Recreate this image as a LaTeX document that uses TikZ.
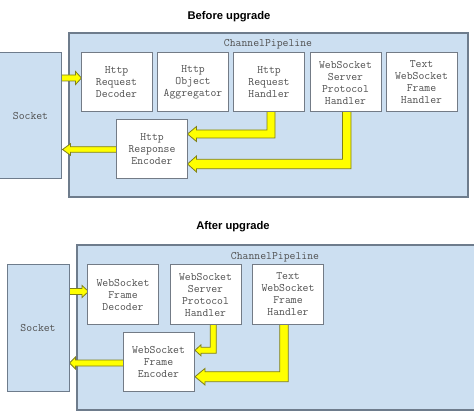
\documentclass[tikz,border=0pt]{standalone}
\usepackage{fontspec}
\setsansfont{Liberation Sans}
\definecolor{pipefill}{HTML}{CCDFF1}
\definecolor{pipeline}{HTML}{6E7C8C}
\definecolor{boxline}{HTML}{737B86}
\definecolor{txtgray}{HTML}{505050}
\definecolor{arrowfill}{HTML}{FFFF00}
\definecolor{arrowline}{HTML}{7F7F1A}
\tikzset{
  monotext/.style={font=\ttfamily\fontsize{11.4}{12}\selectfont, text=txtgray},
  pipebox/.style={draw=pipeline, fill=pipefill, line width=1.2pt},
  sockbox/.style={monotext, draw=pipeline, fill=pipefill, line width=1pt, minimum width=62pt, minimum height=126pt, inner sep=0pt},
  hbox/.style={monotext, draw=boxline, fill=white, line width=1pt, minimum width=71pt, minimum height=59pt, inner sep=0pt, align=center},
  ptitle/.style={monotext},
  title/.style={font=\sffamily\bfseries\fontsize{11.2}{13}\selectfont, text=black},
  blockarrow/.style={fill=arrowfill, draw=arrowline, line width=0.8pt, line join=miter}
}
% straight left/right block arrow: tip x, y centre, head base x, shaft end x, shaft half, head half
\newcommand{\harrow}[6]{%
  \draw[blockarrow] (#1,#2) -- (#3,#2-#6) -- (#3,#2-#5) -- (#4,#2-#5) -- (#4,#2+#5) -- (#3,#2+#5) -- (#3,#2+#6) -- cycle;}
% bent arrow: shaft x, shaft half width, top y, y centre, horizontal half, head half, head base x, tip x
\newcommand{\barrow}[8]{%
  \draw[blockarrow] (#1-#2,#3) -- (#1+#2,#3) -- (#1+#2,#4+#5) -- (#7,#4+#5) -- (#7,#4+#6) -- (#8,#4) -- (#7,#4-#6) -- (#7,#4-#5) -- (#1-#2,#4-#5) -- cycle;}
\begin{document}
\begin{tikzpicture}[x=1pt,y=-1pt]
\useasboundingbox (0,0) rectangle (474,414);
% ---------- Before upgrade ----------
\node[title] (t1) at (229,17) {Before upgrade};
\draw[pipebox] (69,33) rectangle (468,197);
\node[ptitle] (p1) at (268,44) {ChannelPipeline};
\harrow{81.5}{78}{75.5}{60}{3}{6.5}
\harrow{62.5}{149.5}{70.5}{120}{2.8}{5.8}
\barrow{271}{4}{108}{134}{4}{7.5}{196.5}{187.5}
\barrow{346.7}{4.3}{108}{164}{4.7}{8}{196.5}{187.5}
\node[sockbox] (s1) at (30.5,116) {Socket};
\node[hbox] (a1) at (116.5,82.5) {Http\\Request\\Decoder};
\node[hbox] (a2) at (193,82.5) {Http\\Object\\Aggregator};
\node[hbox] (a3) at (269,82.5) {Http\\Request\\Handler};
\node[hbox] (a4) at (345.5,82.5) {WebSocket\\Server\\Protocol\\Handler};
\node[hbox] (a5) at (421.5,82.5) {Text\\WebSocket\\Frame\\Handler};
\node[hbox] (a6) at (152,149.5) {Http\\Response\\Encoder};
% ---------- After upgrade ----------
\node[title] (t2) at (233,227) {After upgrade};
\fill[pipefill] (77,245) rectangle (480,410);
\draw[pipeline, line width=1.2pt] (480,245) -- (77,245) -- (77,410) -- (480,410);
\node[ptitle] (p2) at (275,257) {ChannelPipeline};
\harrow{88.5}{291.5}{82}{67}{3}{6}
\harrow{69.5}{363}{75.5}{126}{3}{6}
\barrow{213.3}{3}{320}{350.3}{3}{5.5}{201}{195}
\barrow{284}{4.2}{320}{376.7}{5}{8.3}{205}{195}
\node[sockbox] (s2) at (38,328) {Socket};
\node[hbox] (c1) at (123,294.5) {WebSocket\\Frame\\Decoder};
\node[hbox] (c2) at (205.5,294.5) {WebSocket\\Server\\Protocol\\Handler};
\node[hbox] (c3) at (288,294.5) {Text\\WebSocket\\Frame\\Handler};
\node[hbox] (c4) at (158.5,361.5) {WebSocket\\Frame\\Encoder};
\end{tikzpicture}
\end{document}
